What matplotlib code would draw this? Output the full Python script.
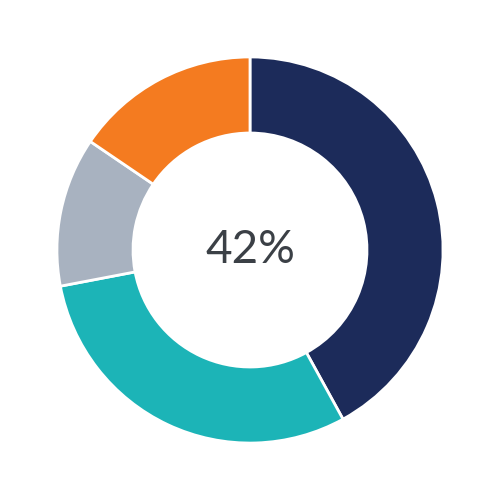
import matplotlib
matplotlib.use("Agg")
import matplotlib.pyplot as plt

# Доли сегментов (по часовой стрелке от верха)
LABELS = ["navy", "teal", "gray", "orange"]
VALUES = [42, 30, 12.5, 15.5]
COLORS = ["#1c2b5a", "#1cb4b7", "#a8b2c0", "#f47b20"]
CENTER_TEXT = "42%"


def main():
    fig = plt.figure(figsize=(5, 5), dpi=100)
    ax = fig.add_axes([0, 0, 1, 1])

    ax.pie(
        VALUES,
        colors=COLORS,
        startangle=90,
        counterclock=False,
        radius=1.0,
        wedgeprops=dict(width=0.394, edgecolor="white", linewidth=2),
    )
    ax.text(0, 0.0, CENTER_TEXT, ha="center", va="center",
            fontsize=33, color="#3b4046", family="Lato", fontweight="normal")

    lim = 1.295
    ax.set_xlim(-lim, lim)
    ax.set_ylim(-lim, lim)
    ax.set_aspect("equal")
    ax.axis("off")

    fig.savefig("out.png", dpi=100)


if __name__ == "__main__":
    main()
